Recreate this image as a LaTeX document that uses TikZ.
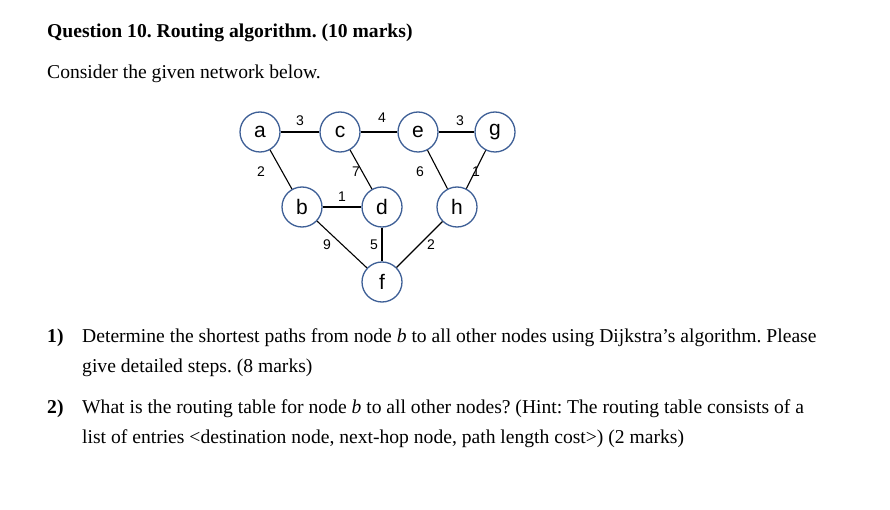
\documentclass[tikz,border=0pt]{standalone}
\usepackage{fontspec}
\setmainfont{Liberation Serif}
\newfontfamily\nodefont{Liberation Sans}
\frenchspacing
\begin{document}
\begin{tikzpicture}[x=1pt,y=-1pt,
  vert/.style={circle,draw,line width=1.3pt,minimum size=40pt,inner sep=0pt,font=\nodefont\fontsize{21}{21}\selectfont},
  lnk/.style={line width=1.1pt,black},
  wt/.style={font=\nodefont\fontsize{14}{14}\selectfont,inner sep=0pt},
  txt/.style={anchor=base west,inner sep=0pt,font=\fontsize{19.6}{23}\selectfont}]
\useasboundingbox (0,0) rectangle (890,510);
\definecolor{nb}{HTML}{3E5F96}
\tikzset{vert/.append style={draw=nb}}
\node[txt,font=\bfseries\fontsize{19.6}{23}\selectfont] (q) at (47,38) {Question 10. Routing algorithm. (10 marks)};
\node[txt] (cons) at (47,79) {Consider the given network below.};
\node[vert] (a) at (260,132) {a};
\node[vert] (c) at (340,132) {c};
\node[vert] (e) at (418,132) {e};
\node[vert] (g) at (495,132) {g};
\node[vert] (b) at (302,207) {b};
\node[vert] (d) at (382,207) {d};
\node[vert] (h) at (457,207) {h};
\node[vert] (f) at (382,282) {f};
\draw[lnk] (a)--(c); \draw[lnk] (c)--(e); \draw[lnk] (e)--(g);
\draw[lnk] (a)--(b); \draw[lnk] (c)--(d); \draw[lnk] (e)--(h); \draw[lnk] (g)--(h);
\draw[lnk] (b)--(d); \draw[lnk] (b)--(f); \draw[lnk] (d)--(f); \draw[lnk] (h)--(f);
\node[wt] (w1) at (300,121) {3};
\node[wt] (w2) at (382,118) {4};
\node[wt] (w3) at (460,121) {3};
\node[wt] (w4) at (261,172) {2};
\node[wt] (w5) at (356,172) {7};
\node[wt] (w6) at (420,172) {6};
\node[wt] (w7) at (476,172) {1};
\node[wt] (w8) at (342,197) {1};
\node[wt] (w9) at (327,245) {9};
\node[wt] (w10) at (374,245) {5};
\node[wt] (w11) at (431,245) {2};
\node[txt,font=\bfseries\fontsize{19.6}{23}\selectfont] (n1) at (47,342) {1)};
\node[txt] (t1) at (82,342) {Determine the shortest paths from node \textit{b} to all other nodes using Dijkstra’s algorithm. Please};
\node[txt] (t1b) at (82,372) {give detailed steps. (8 marks)};
\node[txt,font=\bfseries\fontsize{19.6}{23}\selectfont] (n2) at (47,413) {2)};
\node[txt] (t2) at (82,413) {What is the routing table for node \textit{b} to all other nodes? (Hint: The routing table consists of a};
\node[txt] (t2b) at (82,443) {list of entries <destination node, next-hop node, path length cost>) (2 marks)};
\end{tikzpicture}
\end{document}
